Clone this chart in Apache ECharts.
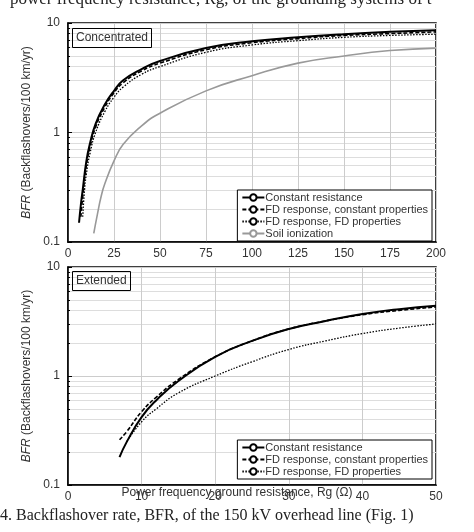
<!DOCTYPE html><html><head><meta charset="utf-8"><script src="https://cdn.jsdelivr.net/npm/echarts@6/dist/echarts.min.js"></script></head><body style="margin:0;background:#fff"><div id="c" style="width:474px;height:532px"></div><script>
const topX=[6,7,8,10,12,15,20,25,30,40,50,75,100,125,150,175,200];
const topConst=[0.15,0.22,0.3,0.55,0.8,1.2,1.8,2.4,3.0,3.8,4.5,5.9,6.8,7.4,7.9,8.3,8.6];
const topFdCx=[7,8,10,12,15,20,25,30,40,50,75,100,125,150,175,200];
const topFdC=[0.17,0.26,0.5,0.74,1.12,1.7,2.3,2.85,3.65,4.3,5.7,6.6,7.2,7.7,8.0,8.3];
const topFdFx=[8,9,10,12,15,20,25,30,40,50,75,100,125,150,175,200];
const topFdF=[0.17,0.3,0.42,0.65,1.0,1.55,2.1,2.6,3.4,4.0,5.4,6.3,6.9,7.4,7.7,7.9];
const topSoilx=[14,16,18,20,25,30,40,50,75,100,125,150,175,200];
const topSoil=[0.12,0.18,0.26,0.34,0.55,0.78,1.15,1.5,2.4,3.3,4.3,5.0,5.6,5.9];
const botX=[7,8,10,12,15,20,25,30,35,40,45,50];
const botConst=[0.18,0.25,0.42,0.6,0.9,1.5,2.1,2.7,3.2,3.7,4.1,4.4];
const botFdC=[0.26,0.31,0.47,0.64,0.93,1.5,2.1,2.7,3.2,3.65,4.0,4.3];
const botFdFx=[8,10,12,15,20,25,30,35,40,45,50];
const botFdF=[0.25,0.38,0.5,0.7,1.0,1.35,1.75,2.1,2.45,2.75,3.0];
const names=['Constant resistance','FD response, constant properties','FD response, FD properties','Soil ionization'];
const z=(a,b)=>a.map((v,i)=>[v,b[i]]);
const F='Liberation Sans, Arial';
const ls=[{color:'#000',width:2,type:'solid'},{color:'#000',width:1.6,type:[4,2]},{color:'#000',width:1.3,type:[1.5,1.5]},{color:'#999',width:1.6,type:'solid'}];
function ser(n,d,xi,k){return {name:names[n],type:'line',data:d,xAxisIndex:xi,yAxisIndex:xi,showSymbol:false,smooth:true,lineStyle:ls[n],itemStyle:{color:ls[n].color},legendIndex:k};}
const yA=(gi)=>({type:'log',gridIndex:gi,min:0.1,max:10,logBase:10,axisLine:{show:true,lineStyle:{color:'#000',width:1.5}},axisTick:{show:true,inside:true,length:4,lineStyle:{color:'#000'}},minorTick:{show:true,splitNumber:9,length:2,lineStyle:{color:'#000'}},splitLine:{lineStyle:{color:'#ccc'}},minorSplitLine:{show:true,lineStyle:{color:'#ddd'}},axisLabel:{color:'#333',fontFamily:F,fontSize:12,formatter:v=>String(v)},name:'{i|BFR} (Backflashovers/100 km/yr)',nameLocation:'middle',nameGap:34,nameRotate:90,nameTextStyle:{fontFamily:F,fontSize:12,color:'#333',rich:{i:{fontStyle:'italic',fontFamily:F,fontSize:12,color:'#333'}}}});
const xA=(gi,max,int)=>({type:'value',gridIndex:gi,min:0,max:max,interval:int,axisLine:{lineStyle:{color:'#000',width:1.5}},axisTick:{show:false},splitLine:{lineStyle:{color:'#ccc'}},axisLabel:{color:'#333',fontFamily:F,fontSize:12,margin:6}});
const lg=(top,data)=>({orient:'vertical',right:42,top:top,data:data,backgroundColor:'#fff',borderColor:'#000',borderWidth:1,borderRadius:0,padding:[2,4,2,4],itemGap:1,itemWidth:22,itemHeight:8,textStyle:{fontFamily:F,fontSize:11,color:'#333',padding:[0,0,0,-4]}});
const opt={animation:false,
title:[{text:'Concentrated',left:72,top:28,borderColor:'#000',borderWidth:1,padding:[4,4],textStyle:{fontFamily:F,fontSize:12,fontWeight:'normal',color:'#333'}},
{text:'Extended',left:72,top:271,borderColor:'#000',borderWidth:1,padding:[4,4],textStyle:{fontFamily:F,fontSize:12,fontWeight:'normal',color:'#333'}}],
grid:[{left:68,right:38,top:23,height:219,show:true,borderColor:'#000',borderWidth:1.5},{left:68,right:38,top:267,height:218,show:true,borderColor:'#000',borderWidth:1.5}],
xAxis:[xA(0,200,25),xA(1,50,10)],yAxis:[yA(0),yA(1)],
legend:[lg(190,names),lg(440,names.slice(0,3))],
series:[ser(0,z(topX,topConst),0,0),ser(1,z(topFdCx,topFdC),0,0),ser(2,z(topFdFx,topFdF),0,0),ser(3,z(topSoilx,topSoil),0,0),
ser(0,z(botX,botConst),1,1),ser(1,z(botX,botFdC),1,1),ser(2,z(botFdFx,botFdF),1,1)],
graphic:[{type:'text',left:'center',top:487,style:{text:'Power frequency ground resistance, Rg (Ω)',font:'12px Liberation Sans',fill:'#333'}},
{type:'text',left:10,top:-9,style:{text:'power frequency resistance, Rg, of the grounding systems of t',font:'17px Liberation Serif',fill:'#222'}},
{type:'text',left:0,top:508,style:{text:'4. Backflashover rate, BFR, of the 150 kV overhead line (Fig. 1)',font:'16px Liberation Serif',fill:'#222'}}]};
// legends: map series to legend by duplicates; ECharts legends share names which is fine
const ch=echarts.init(document.getElementById('c'));ch.setOption(opt);
</script></body></html>
